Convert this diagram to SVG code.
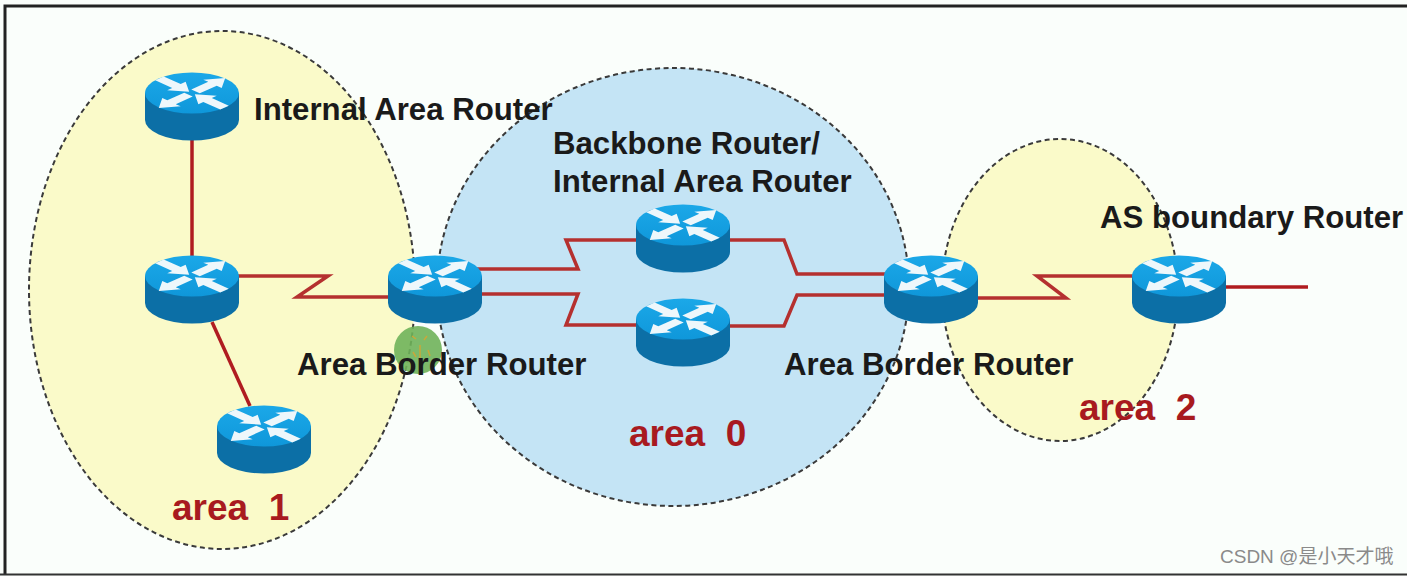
<svg xmlns="http://www.w3.org/2000/svg" width="1407" height="576" viewBox="0 0 1407 576">
<defs>
<style>
.area{stroke:#3a3a3a;stroke-width:2;stroke-dasharray:5 3.500}
.y{fill:#fafac9}.b{fill:#c4e4f5}
.link{fill:none;stroke:#b5302f;stroke-width:3.500}
.solid{stroke:#b01c20}
.t{font-family:"Liberation Sans",Arial,sans-serif;font-size:31.200px;font-weight:bold;fill:#1a1a1a}
.a{font-family:"Liberation Sans",Arial,sans-serif;font-size:37px;font-weight:bold;fill:#a81a1f;white-space:pre}
</style>
<linearGradient id="top" x1="0" y1="0" x2="0" y2="1"><stop offset="0" stop-color="#1ba8e8"/><stop offset="1" stop-color="#0f97da"/></linearGradient>
<path id="arrow" d="M0-6H24V-13L42 0 24 13V6H0Z" fill="#eef7fb"/>
<g id="router">
<path d="M-47-15V12A47 20.500 0 0 0 47 12V-15Z" fill="#0c6fa6"/>
<ellipse cx="0" cy="-15" rx="47" ry="20.500" fill="url(#top)"/>
<use href="#arrow" transform="translate(0 -15) scale(1 .45) rotate(45) translate(-46 0)"/>
<use href="#arrow" transform="translate(0 -15) scale(1 .45) rotate(-45) translate(5 0)"/>
<use href="#arrow" transform="translate(0 -15) scale(1 .45) rotate(135) translate(5 0)"/>
<use href="#arrow" transform="translate(0 -15) scale(1 .45) rotate(225) translate(-46 0)"/>
</g>
</defs>
<rect width="1407" height="576" fill="#fafefb"/>
<path d="M5 575V6H1407" fill="none" stroke="#222" stroke-width="3"/>
<path d="M0 574.500H1407" stroke="#333" stroke-width="2"/>
<g id="areas">
<ellipse class="area y" cx="222" cy="290" rx="193" ry="259"/>
<ellipse class="area y" cx="1060" cy="290" rx="118" ry="151"/>
<ellipse class="area b" cx="673" cy="287" rx="236" ry="219"/>
</g>
<g id="cursor">
<circle cx="418" cy="350" r="24" fill="#6fb35a" opacity=".9"/>
<path d="M412 336l4 3M424 340l3-4M420 345v16M413 352l3 5M428 350l2 6" stroke="#c9a83a" stroke-width="1.500" fill="none"/>
</g>
<g id="connectors">
<path class="link solid" d="M192 130V265"/>
<path class="link solid" d="M212 322L250 406"/>
<path class="link" d="M235 276H328L297 297H400"/>
<path class="link" d="M475 269H578L566 240H645"/>
<path class="link" d="M475 294H578L566 325H645"/>
<path class="link" d="M725 240H784L797 274H890"/>
<path class="link" d="M725 326H784L797 295H890"/>
<path class="link" d="M975 298H1066L1037 276H1140"/>
<path class="link solid" d="M1220 287H1308"/>
</g>
<g id="r1"><use href="#router" x="192" y="108"/></g>
<g id="r2"><use href="#router" x="192" y="291"/></g>
<g id="r3"><use href="#router" x="264" y="441"/></g>
<g id="r4"><use href="#router" x="435" y="291"/></g>
<g id="r5"><use href="#router" x="683" y="240"/></g>
<g id="r6"><use href="#router" x="683" y="334"/></g>
<g id="r7"><use href="#router" x="931" y="291"/></g>
<g id="r8"><use href="#router" x="1179" y="291"/></g>
<g id="labels">
<text class="t" x="254" y="120">Internal Area Router</text>
<text class="t" x="553" y="154">Backbone Router/</text>
<text class="t" x="553" y="192">Internal Area Router</text>
<text class="t" x="1100" y="228">AS boundary Router</text>
<text class="t" x="297" y="375">Area Border Router</text>
<text class="t" x="784" y="375">Area Border Router</text>
<text class="a" x="172" y="520">area  1</text>
<text class="a" x="629" y="446">area  0</text>
<text class="a" x="1079" y="420">area  2</text>
<text x="1220" y="563" font-family="'Liberation Sans','Noto Sans CJK SC',sans-serif" font-size="19" fill="#8a8a8a">CSDN @是小天才哦</text>
</g>
</svg>
